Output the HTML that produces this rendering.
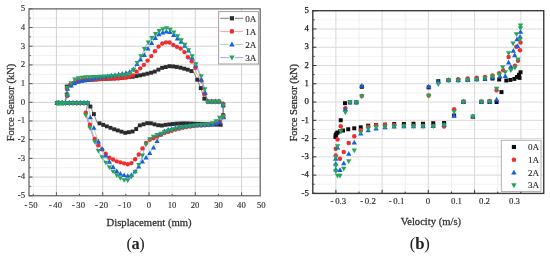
<!DOCTYPE html>
<html><head><meta charset="utf-8"><title>Force sensor hysteresis</title>
<style>html,body{margin:0;padding:0;background:#fff;}body{width:550px;height:256px;overflow:hidden}svg{display:block}</style>
</head><body>
<svg width="550" height="256" viewBox="0 0 550 256"><rect x="0" y="0" width="550" height="256" fill="#fff"/>
<line x1="29.0" x2="260.2" y1="186.41" y2="186.41" stroke="#f0f0f0" stroke-width="1"/>
<line x1="29.0" x2="260.2" y1="167.72" y2="167.72" stroke="#f0f0f0" stroke-width="1"/>
<line x1="29.0" x2="260.2" y1="149.03" y2="149.03" stroke="#f0f0f0" stroke-width="1"/>
<line x1="29.0" x2="260.2" y1="130.34" y2="130.34" stroke="#f0f0f0" stroke-width="1"/>
<line x1="29.0" x2="260.2" y1="111.64" y2="111.64" stroke="#f0f0f0" stroke-width="1"/>
<line x1="29.0" x2="260.2" y1="92.95" y2="92.95" stroke="#f0f0f0" stroke-width="1"/>
<line x1="29.0" x2="260.2" y1="74.26" y2="74.26" stroke="#f0f0f0" stroke-width="1"/>
<line x1="29.0" x2="260.2" y1="55.57" y2="55.57" stroke="#f0f0f0" stroke-width="1"/>
<line x1="29.0" x2="260.2" y1="36.88" y2="36.88" stroke="#f0f0f0" stroke-width="1"/>
<line x1="29.0" x2="260.2" y1="18.19" y2="18.19" stroke="#f0f0f0" stroke-width="1"/>
<line x1="33.25" x2="33.25" y1="8.86" y2="195.75" stroke="#ededed" stroke-width="1"/>
<line x1="79.55" x2="79.55" y1="8.86" y2="195.75" stroke="#ededed" stroke-width="1"/>
<line x1="125.85" x2="125.85" y1="8.86" y2="195.75" stroke="#ededed" stroke-width="1"/>
<line x1="172.15" x2="172.15" y1="8.86" y2="195.75" stroke="#ededed" stroke-width="1"/>
<line x1="218.45" x2="218.45" y1="8.86" y2="195.75" stroke="#ededed" stroke-width="1"/>
<line x1="29.0" x2="260.2" y1="177.06" y2="177.06" stroke="#d0d0d0" stroke-width="1"/>
<line x1="29.0" x2="260.2" y1="158.37" y2="158.37" stroke="#d0d0d0" stroke-width="1"/>
<line x1="29.0" x2="260.2" y1="139.68" y2="139.68" stroke="#d0d0d0" stroke-width="1"/>
<line x1="29.0" x2="260.2" y1="120.99" y2="120.99" stroke="#d0d0d0" stroke-width="1"/>
<line x1="29.0" x2="260.2" y1="102.30" y2="102.30" stroke="#d0d0d0" stroke-width="1"/>
<line x1="29.0" x2="260.2" y1="83.61" y2="83.61" stroke="#d0d0d0" stroke-width="1"/>
<line x1="29.0" x2="260.2" y1="64.92" y2="64.92" stroke="#d0d0d0" stroke-width="1"/>
<line x1="29.0" x2="260.2" y1="46.23" y2="46.23" stroke="#d0d0d0" stroke-width="1"/>
<line x1="29.0" x2="260.2" y1="27.54" y2="27.54" stroke="#d0d0d0" stroke-width="1"/>
<line x1="56.40" x2="56.40" y1="8.86" y2="195.75" stroke="#d0d0d0" stroke-width="1"/>
<line x1="102.70" x2="102.70" y1="8.86" y2="195.75" stroke="#d0d0d0" stroke-width="1"/>
<line x1="149.00" x2="149.00" y1="8.86" y2="195.75" stroke="#d0d0d0" stroke-width="1"/>
<line x1="195.30" x2="195.30" y1="8.86" y2="195.75" stroke="#d0d0d0" stroke-width="1"/>
<line x1="241.60" x2="241.60" y1="8.86" y2="195.75" stroke="#d0d0d0" stroke-width="1"/>
<path d="M57.00 103.00L64.50 103.00L66.80 94.50L66.80 86.50L70.50 85.00L74.00 83.00L77.00 81.80L80.50 81.00L84.00 80.40L94.00 79.60L106.50 78.80L119.00 78.20L134.00 76.60L144.00 74.50L154.00 72.00L161.50 68.00L170.25 66.00L179.00 67.30L189.00 70.00L193.60 72.00L197.20 79.70L200.80 88.10L204.30 98.70L207.90 101.60L221.30 101.60L223.20 105.50L223.20 115.20L220.60 124.80L204.00 124.10L197.00 123.80L185.00 123.30L175.80 123.70L165.60 124.80L160.50 125.80L154.40 124.30L148.80 122.70L143.20 124.40L137.60 126.00L135.60 130.30L133.50 131.30L125.40 132.90L114.20 129.30L104.00 125.20L97.00 122.30L93.90 114.10L90.40 106.50L87.70 103.00L57.00 103.00" fill="none" stroke="#333" stroke-width="0.6"/>
<path d="M57.00 103.00L64.50 103.00L67.20 96.00L67.00 88.50L70.80 85.20L74.20 82.60L77.00 81.40L80.50 80.60L84.00 80.00L94.00 79.30L106.50 78.80L119.00 78.30L128.00 77.30L132.75 75.50L138.28 70.00L142.70 66.25L146.45 62.00L150.20 57.50L153.95 52.50L157.70 47.50L161.45 43.75L165.20 42.50L168.53 41.75L171.50 43.75L175.25 46.25L179.00 47.50L182.75 50.00L186.50 55.00L189.00 58.75L192.75 62.50L195.25 67.50L196.20 73.00L201.30 80.50L204.30 94.00L207.90 101.60L221.30 101.60L223.20 103.70L223.40 116.00L219.80 121.50L216.20 123.20L212.50 124.40L208.50 125.00L197.00 125.70L190.00 126.50L184.00 127.40L174.00 130.00L164.00 133.20L155.25 137.50L149.00 140.00L145.25 143.75L141.50 150.00L137.75 156.25L134.50 160.00L130.75 163.75L127.75 164.25L122.75 163.00L116.50 161.25L109.00 157.50L101.50 148.75L97.75 144.50L94.00 137.50L89.90 124.80L85.80 112.60L87.70 103.00L57.00 103.00" fill="none" stroke="#f55" stroke-width="0.6"/>
<path d="M57.00 103.00L64.50 103.00L67.80 94.90L67.50 88.80L71.20 85.60L74.60 83.20L77.00 81.90L80.50 81.00L84.00 80.30L90.00 79.20L100.00 77.20L104.00 76.80L117.00 74.60L129.00 72.30L134.00 68.75L138.32 62.00L143.30 57.00L146.30 51.25L150.30 45.00L153.80 40.00L157.55 35.00L162.55 32.50L167.49 31.25L171.25 32.50L176.25 37.50L181.25 42.00L186.25 47.50L190.00 53.00L192.50 58.75L196.00 66.00L197.80 70.50L201.30 79.70L205.30 92.90L207.90 101.60L221.30 101.60L223.20 104.50L223.70 117.20L219.60 122.30L216.00 123.40L212.30 124.20L208.50 124.80L197.00 125.00L187.00 125.90L176.50 127.40L165.25 130.60L160.00 135.00L156.50 142.50L152.75 148.75L148.50 155.00L142.75 161.25L139.00 166.25L135.25 171.25L130.25 176.25L125.25 175.50L120.25 173.75L115.25 170.00L109.00 161.25L104.00 152.50L99.00 143.00L97.00 138.00L93.90 127.90L90.40 117.20L87.70 103.00L57.00 103.00" fill="none" stroke="#6c6" stroke-width="0.6"/>
<path d="M57.00 103.00L64.50 103.00L67.30 95.50L67.30 87.70L71.20 83.20L74.80 79.40L77.00 78.40L84.00 77.40L94.00 77.00L104.00 76.60L117.00 75.80L129.00 74.60L134.00 69.50L138.65 60.00L142.80 53.00L146.30 45.00L149.30 41.00L152.30 37.50L157.30 32.00L162.30 29.50L167.30 28.00L171.00 30.00L175.50 33.75L181.00 40.00L186.00 46.00L190.00 52.50L193.75 58.75L197.00 67.00L201.30 76.10L204.80 89.30L207.90 101.60L221.30 101.60L223.20 105.30L223.00 116.80L219.60 117.70L216.00 121.30L212.50 123.30L208.50 124.60L197.00 125.20L187.00 126.60L176.50 128.60L166.00 131.60L156.50 135.30L151.50 137.50L147.00 142.00L144.00 150.00L141.50 158.75L136.50 170.00L132.75 175.00L129.00 180.00L125.25 180.75L120.25 178.00L116.50 175.00L111.50 170.00L106.50 163.75L101.50 156.25L99.00 152.50L94.00 140.00L89.90 127.90L85.80 115.20L87.70 103.00L57.00 103.00" fill="none" stroke="#66f" stroke-width="0.6"/>
<g><rect x="55.05" y="101.05" width="3.91" height="3.91" fill="#2b2b2b"/><rect x="55.05" y="101.05" width="3.91" height="3.91" fill="#2b2b2b"/><rect x="58.72" y="101.05" width="3.91" height="3.91" fill="#2b2b2b"/><rect x="62.39" y="101.05" width="3.91" height="3.91" fill="#2b2b2b"/><rect x="64.85" y="92.55" width="3.91" height="3.91" fill="#2b2b2b"/><rect x="64.85" y="84.55" width="3.91" height="3.91" fill="#2b2b2b"/><rect x="68.55" y="83.05" width="3.91" height="3.91" fill="#2b2b2b"/><rect x="72.05" y="81.05" width="3.91" height="3.91" fill="#2b2b2b"/><rect x="75.72" y="79.69" width="3.91" height="3.91" fill="#2b2b2b"/><rect x="79.39" y="78.90" width="3.91" height="3.91" fill="#2b2b2b"/><rect x="83.06" y="78.37" width="3.91" height="3.91" fill="#2b2b2b"/><rect x="86.73" y="78.07" width="3.91" height="3.91" fill="#2b2b2b"/><rect x="90.40" y="77.78" width="3.91" height="3.91" fill="#2b2b2b"/><rect x="94.07" y="77.52" width="3.91" height="3.91" fill="#2b2b2b"/><rect x="97.74" y="77.28" width="3.91" height="3.91" fill="#2b2b2b"/><rect x="101.41" y="77.05" width="3.91" height="3.91" fill="#2b2b2b"/><rect x="105.08" y="76.82" width="3.91" height="3.91" fill="#2b2b2b"/><rect x="108.75" y="76.65" width="3.91" height="3.91" fill="#2b2b2b"/><rect x="112.42" y="76.47" width="3.91" height="3.91" fill="#2b2b2b"/><rect x="116.09" y="76.29" width="3.91" height="3.91" fill="#2b2b2b"/><rect x="119.76" y="75.96" width="3.91" height="3.91" fill="#2b2b2b"/><rect x="123.43" y="75.57" width="3.91" height="3.91" fill="#2b2b2b"/><rect x="127.10" y="75.17" width="3.91" height="3.91" fill="#2b2b2b"/><rect x="130.77" y="74.78" width="3.91" height="3.91" fill="#2b2b2b"/><rect x="134.44" y="74.15" width="3.91" height="3.91" fill="#2b2b2b"/><rect x="138.11" y="73.37" width="3.91" height="3.91" fill="#2b2b2b"/><rect x="141.78" y="72.60" width="3.91" height="3.91" fill="#2b2b2b"/><rect x="145.45" y="71.70" width="3.91" height="3.91" fill="#2b2b2b"/><rect x="149.12" y="70.78" width="3.91" height="3.91" fill="#2b2b2b"/><rect x="152.79" y="69.65" width="3.91" height="3.91" fill="#2b2b2b"/><rect x="156.46" y="67.69" width="3.91" height="3.91" fill="#2b2b2b"/><rect x="160.13" y="65.91" width="3.91" height="3.91" fill="#2b2b2b"/><rect x="163.80" y="65.08" width="3.91" height="3.91" fill="#2b2b2b"/><rect x="167.47" y="64.24" width="3.91" height="3.91" fill="#2b2b2b"/><rect x="171.14" y="64.47" width="3.91" height="3.91" fill="#2b2b2b"/><rect x="174.81" y="65.01" width="3.91" height="3.91" fill="#2b2b2b"/><rect x="178.48" y="65.73" width="3.91" height="3.91" fill="#2b2b2b"/><rect x="182.15" y="66.72" width="3.91" height="3.91" fill="#2b2b2b"/><rect x="185.82" y="67.71" width="3.91" height="3.91" fill="#2b2b2b"/><rect x="189.49" y="69.11" width="3.91" height="3.91" fill="#2b2b2b"/><rect x="195.25" y="77.75" width="3.91" height="3.91" fill="#2b2b2b"/><rect x="198.85" y="86.15" width="3.91" height="3.91" fill="#2b2b2b"/><rect x="202.35" y="96.75" width="3.91" height="3.91" fill="#2b2b2b"/><rect x="205.95" y="99.65" width="3.91" height="3.91" fill="#2b2b2b"/><rect x="209.62" y="99.65" width="3.91" height="3.91" fill="#2b2b2b"/><rect x="213.29" y="99.65" width="3.91" height="3.91" fill="#2b2b2b"/><rect x="216.96" y="99.65" width="3.91" height="3.91" fill="#2b2b2b"/><rect x="221.25" y="103.55" width="3.91" height="3.91" fill="#2b2b2b"/><rect x="221.25" y="113.25" width="3.91" height="3.91" fill="#2b2b2b"/><rect x="218.65" y="122.85" width="3.91" height="3.91" fill="#2b2b2b"/><rect x="214.98" y="122.69" width="3.91" height="3.91" fill="#2b2b2b"/><rect x="211.31" y="122.54" width="3.91" height="3.91" fill="#2b2b2b"/><rect x="207.64" y="122.38" width="3.91" height="3.91" fill="#2b2b2b"/><rect x="203.97" y="122.23" width="3.91" height="3.91" fill="#2b2b2b"/><rect x="200.30" y="122.07" width="3.91" height="3.91" fill="#2b2b2b"/><rect x="196.63" y="121.91" width="3.91" height="3.91" fill="#2b2b2b"/><rect x="192.96" y="121.76" width="3.91" height="3.91" fill="#2b2b2b"/><rect x="189.29" y="121.61" width="3.91" height="3.91" fill="#2b2b2b"/><rect x="185.62" y="121.45" width="3.91" height="3.91" fill="#2b2b2b"/><rect x="181.95" y="121.39" width="3.91" height="3.91" fill="#2b2b2b"/><rect x="178.28" y="121.55" width="3.91" height="3.91" fill="#2b2b2b"/><rect x="174.61" y="121.71" width="3.91" height="3.91" fill="#2b2b2b"/><rect x="170.94" y="122.06" width="3.91" height="3.91" fill="#2b2b2b"/><rect x="167.27" y="122.46" width="3.91" height="3.91" fill="#2b2b2b"/><rect x="163.60" y="122.86" width="3.91" height="3.91" fill="#2b2b2b"/><rect x="159.93" y="123.58" width="3.91" height="3.91" fill="#2b2b2b"/><rect x="156.26" y="123.28" width="3.91" height="3.91" fill="#2b2b2b"/><rect x="152.59" y="122.38" width="3.91" height="3.91" fill="#2b2b2b"/><rect x="148.92" y="121.34" width="3.91" height="3.91" fill="#2b2b2b"/><rect x="145.25" y="121.23" width="3.91" height="3.91" fill="#2b2b2b"/><rect x="141.58" y="122.35" width="3.91" height="3.91" fill="#2b2b2b"/><rect x="137.91" y="123.40" width="3.91" height="3.91" fill="#2b2b2b"/><rect x="134.24" y="127.08" width="3.91" height="3.91" fill="#2b2b2b"/><rect x="130.57" y="129.54" width="3.91" height="3.91" fill="#2b2b2b"/><rect x="126.90" y="130.27" width="3.91" height="3.91" fill="#2b2b2b"/><rect x="123.23" y="130.88" width="3.91" height="3.91" fill="#2b2b2b"/><rect x="119.56" y="129.70" width="3.91" height="3.91" fill="#2b2b2b"/><rect x="115.89" y="128.52" width="3.91" height="3.91" fill="#2b2b2b"/><rect x="112.22" y="127.33" width="3.91" height="3.91" fill="#2b2b2b"/><rect x="108.55" y="125.86" width="3.91" height="3.91" fill="#2b2b2b"/><rect x="104.88" y="124.38" width="3.91" height="3.91" fill="#2b2b2b"/><rect x="101.21" y="122.90" width="3.91" height="3.91" fill="#2b2b2b"/><rect x="97.54" y="121.38" width="3.91" height="3.91" fill="#2b2b2b"/><rect x="91.95" y="112.15" width="3.91" height="3.91" fill="#2b2b2b"/><rect x="88.45" y="104.55" width="3.91" height="3.91" fill="#2b2b2b"/><rect x="85.75" y="101.05" width="3.91" height="3.91" fill="#2b2b2b"/><rect x="82.08" y="101.05" width="3.91" height="3.91" fill="#2b2b2b"/><rect x="78.41" y="101.05" width="3.91" height="3.91" fill="#2b2b2b"/><rect x="74.74" y="101.05" width="3.91" height="3.91" fill="#2b2b2b"/><rect x="71.07" y="101.05" width="3.91" height="3.91" fill="#2b2b2b"/><rect x="67.40" y="101.05" width="3.91" height="3.91" fill="#2b2b2b"/><rect x="63.73" y="101.05" width="3.91" height="3.91" fill="#2b2b2b"/><rect x="60.06" y="101.05" width="3.91" height="3.91" fill="#2b2b2b"/><rect x="56.39" y="101.05" width="3.91" height="3.91" fill="#2b2b2b"/></g>
<g><circle cx="57.00" cy="103.10" r="2.19" fill="#ee2d2f"/><circle cx="58.00" cy="103.10" r="2.19" fill="#ee2d2f"/><circle cx="61.67" cy="103.10" r="2.19" fill="#ee2d2f"/><circle cx="67.20" cy="96.00" r="2.19" fill="#ee2d2f"/><circle cx="67.00" cy="88.50" r="2.19" fill="#ee2d2f"/><circle cx="70.80" cy="85.20" r="2.19" fill="#ee2d2f"/><circle cx="74.20" cy="82.60" r="2.19" fill="#ee2d2f"/><circle cx="77.87" cy="81.20" r="2.19" fill="#ee2d2f"/><circle cx="81.54" cy="80.42" r="2.19" fill="#ee2d2f"/><circle cx="85.21" cy="79.92" r="2.19" fill="#ee2d2f"/><circle cx="88.88" cy="79.66" r="2.19" fill="#ee2d2f"/><circle cx="92.55" cy="79.40" r="2.19" fill="#ee2d2f"/><circle cx="96.22" cy="79.21" r="2.19" fill="#ee2d2f"/><circle cx="99.89" cy="79.06" r="2.19" fill="#ee2d2f"/><circle cx="103.56" cy="78.92" r="2.19" fill="#ee2d2f"/><circle cx="107.23" cy="78.77" r="2.19" fill="#ee2d2f"/><circle cx="110.90" cy="78.62" r="2.19" fill="#ee2d2f"/><circle cx="114.57" cy="78.48" r="2.19" fill="#ee2d2f"/><circle cx="118.24" cy="78.33" r="2.19" fill="#ee2d2f"/><circle cx="121.91" cy="77.98" r="2.19" fill="#ee2d2f"/><circle cx="125.58" cy="77.57" r="2.19" fill="#ee2d2f"/><circle cx="129.25" cy="76.83" r="2.19" fill="#ee2d2f"/><circle cx="132.92" cy="75.33" r="2.19" fill="#ee2d2f"/><circle cx="136.59" cy="71.68" r="2.19" fill="#ee2d2f"/><circle cx="140.26" cy="68.32" r="2.19" fill="#ee2d2f"/><circle cx="143.93" cy="64.86" r="2.19" fill="#ee2d2f"/><circle cx="147.60" cy="60.62" r="2.19" fill="#ee2d2f"/><circle cx="151.27" cy="56.07" r="2.19" fill="#ee2d2f"/><circle cx="154.94" cy="51.18" r="2.19" fill="#ee2d2f"/><circle cx="158.61" cy="46.59" r="2.19" fill="#ee2d2f"/><circle cx="162.28" cy="43.47" r="2.19" fill="#ee2d2f"/><circle cx="165.95" cy="42.33" r="2.19" fill="#ee2d2f"/><circle cx="169.62" cy="42.48" r="2.19" fill="#ee2d2f"/><circle cx="173.29" cy="44.94" r="2.19" fill="#ee2d2f"/><circle cx="176.96" cy="46.82" r="2.19" fill="#ee2d2f"/><circle cx="180.63" cy="48.59" r="2.19" fill="#ee2d2f"/><circle cx="184.30" cy="52.07" r="2.19" fill="#ee2d2f"/><circle cx="187.97" cy="57.20" r="2.19" fill="#ee2d2f"/><circle cx="191.64" cy="61.39" r="2.19" fill="#ee2d2f"/><circle cx="195.31" cy="67.85" r="2.19" fill="#ee2d2f"/><circle cx="201.30" cy="80.50" r="2.19" fill="#ee2d2f"/><circle cx="204.30" cy="94.00" r="2.19" fill="#ee2d2f"/><circle cx="207.90" cy="101.70" r="2.19" fill="#ee2d2f"/><circle cx="211.57" cy="101.70" r="2.19" fill="#ee2d2f"/><circle cx="215.24" cy="101.70" r="2.19" fill="#ee2d2f"/><circle cx="218.91" cy="101.70" r="2.19" fill="#ee2d2f"/><circle cx="223.20" cy="103.70" r="2.19" fill="#ee2d2f"/><circle cx="223.40" cy="116.00" r="2.19" fill="#ee2d2f"/><circle cx="219.80" cy="121.50" r="2.19" fill="#ee2d2f"/><circle cx="216.20" cy="123.20" r="2.19" fill="#ee2d2f"/><circle cx="212.50" cy="124.40" r="2.19" fill="#ee2d2f"/><circle cx="208.50" cy="125.00" r="2.19" fill="#ee2d2f"/><circle cx="204.83" cy="125.22" r="2.19" fill="#ee2d2f"/><circle cx="201.16" cy="125.45" r="2.19" fill="#ee2d2f"/><circle cx="197.49" cy="125.67" r="2.19" fill="#ee2d2f"/><circle cx="193.82" cy="126.06" r="2.19" fill="#ee2d2f"/><circle cx="190.15" cy="126.48" r="2.19" fill="#ee2d2f"/><circle cx="186.48" cy="127.03" r="2.19" fill="#ee2d2f"/><circle cx="182.81" cy="127.71" r="2.19" fill="#ee2d2f"/><circle cx="179.14" cy="128.66" r="2.19" fill="#ee2d2f"/><circle cx="175.47" cy="129.62" r="2.19" fill="#ee2d2f"/><circle cx="171.80" cy="130.70" r="2.19" fill="#ee2d2f"/><circle cx="168.13" cy="131.88" r="2.19" fill="#ee2d2f"/><circle cx="164.46" cy="133.05" r="2.19" fill="#ee2d2f"/><circle cx="160.79" cy="134.78" r="2.19" fill="#ee2d2f"/><circle cx="157.12" cy="136.58" r="2.19" fill="#ee2d2f"/><circle cx="153.45" cy="138.22" r="2.19" fill="#ee2d2f"/><circle cx="149.78" cy="139.69" r="2.19" fill="#ee2d2f"/><circle cx="146.11" cy="142.89" r="2.19" fill="#ee2d2f"/><circle cx="142.44" cy="148.43" r="2.19" fill="#ee2d2f"/><circle cx="138.77" cy="154.55" r="2.19" fill="#ee2d2f"/><circle cx="135.10" cy="159.31" r="2.19" fill="#ee2d2f"/><circle cx="131.43" cy="163.07" r="2.19" fill="#ee2d2f"/><circle cx="127.76" cy="164.25" r="2.19" fill="#ee2d2f"/><circle cx="124.09" cy="163.34" r="2.19" fill="#ee2d2f"/><circle cx="120.42" cy="162.35" r="2.19" fill="#ee2d2f"/><circle cx="116.75" cy="161.32" r="2.19" fill="#ee2d2f"/><circle cx="113.08" cy="159.54" r="2.19" fill="#ee2d2f"/><circle cx="109.41" cy="157.71" r="2.19" fill="#ee2d2f"/><circle cx="105.74" cy="153.70" r="2.19" fill="#ee2d2f"/><circle cx="102.07" cy="149.41" r="2.19" fill="#ee2d2f"/><circle cx="98.40" cy="145.24" r="2.19" fill="#ee2d2f"/><circle cx="94.73" cy="138.86" r="2.19" fill="#ee2d2f"/><circle cx="89.90" cy="124.80" r="2.19" fill="#ee2d2f"/><circle cx="85.80" cy="112.60" r="2.19" fill="#ee2d2f"/><circle cx="87.70" cy="103.10" r="2.19" fill="#ee2d2f"/><circle cx="84.03" cy="103.10" r="2.19" fill="#ee2d2f"/><circle cx="80.36" cy="103.10" r="2.19" fill="#ee2d2f"/><circle cx="76.69" cy="103.10" r="2.19" fill="#ee2d2f"/><circle cx="73.02" cy="103.10" r="2.19" fill="#ee2d2f"/><circle cx="69.35" cy="103.10" r="2.19" fill="#ee2d2f"/><circle cx="65.68" cy="103.10" r="2.19" fill="#ee2d2f"/><circle cx="62.01" cy="103.10" r="2.19" fill="#ee2d2f"/><circle cx="58.34" cy="103.10" r="2.19" fill="#ee2d2f"/></g>
<g><path d="M57.00 99.80L59.60 104.45L54.40 104.45Z" fill="#1660e0"/><path d="M59.00 99.80L61.60 104.45L56.40 104.45Z" fill="#1660e0"/><path d="M62.67 99.80L65.27 104.45L60.07 104.45Z" fill="#1660e0"/><path d="M67.80 92.20L70.40 96.85L65.20 96.85Z" fill="#1660e0"/><path d="M67.50 86.10L70.10 90.75L64.90 90.75Z" fill="#1660e0"/><path d="M71.20 82.90L73.80 87.55L68.60 87.55Z" fill="#1660e0"/><path d="M74.60 80.50L77.20 85.15L72.00 85.15Z" fill="#1660e0"/><path d="M78.27 78.88L80.87 83.53L75.67 83.53Z" fill="#1660e0"/><path d="M81.94 78.02L84.54 82.67L79.34 82.67Z" fill="#1660e0"/><path d="M85.61 77.31L88.21 81.96L83.01 81.96Z" fill="#1660e0"/><path d="M89.28 76.64L91.88 81.29L86.68 81.29Z" fill="#1660e0"/><path d="M92.95 75.91L95.55 80.56L90.35 80.56Z" fill="#1660e0"/><path d="M96.62 75.18L99.22 79.83L94.02 79.83Z" fill="#1660e0"/><path d="M100.29 74.47L102.89 79.12L97.69 79.12Z" fill="#1660e0"/><path d="M103.96 74.11L106.56 78.76L101.36 78.76Z" fill="#1660e0"/><path d="M107.63 73.49L110.23 78.14L105.03 78.14Z" fill="#1660e0"/><path d="M111.30 72.87L113.90 77.52L108.70 77.52Z" fill="#1660e0"/><path d="M114.97 72.25L117.57 76.90L112.37 76.90Z" fill="#1660e0"/><path d="M118.64 71.59L121.24 76.24L116.04 76.24Z" fill="#1660e0"/><path d="M122.31 70.89L124.91 75.54L119.71 75.54Z" fill="#1660e0"/><path d="M125.98 70.18L128.58 74.83L123.38 74.83Z" fill="#1660e0"/><path d="M129.65 69.14L132.25 73.79L127.05 73.79Z" fill="#1660e0"/><path d="M133.32 66.54L135.92 71.19L130.72 71.19Z" fill="#1660e0"/><path d="M136.99 61.38L139.59 66.03L134.39 66.03Z" fill="#1660e0"/><path d="M140.66 56.95L143.26 61.60L138.06 61.60Z" fill="#1660e0"/><path d="M144.33 52.33L146.93 56.98L141.73 56.98Z" fill="#1660e0"/><path d="M148.00 45.90L150.60 50.55L145.40 50.55Z" fill="#1660e0"/><path d="M151.67 40.35L154.27 45.00L149.07 45.00Z" fill="#1660e0"/><path d="M155.34 35.25L157.94 39.90L152.74 39.90Z" fill="#1660e0"/><path d="M159.01 31.57L161.61 36.22L156.41 36.22Z" fill="#1660e0"/><path d="M162.68 29.77L165.28 34.42L160.08 34.42Z" fill="#1660e0"/><path d="M166.35 28.84L168.95 33.49L163.75 33.49Z" fill="#1660e0"/><path d="M170.02 29.39L172.62 34.04L167.42 34.04Z" fill="#1660e0"/><path d="M173.69 32.24L176.29 36.89L171.09 36.89Z" fill="#1660e0"/><path d="M177.36 35.80L179.96 40.45L174.76 40.45Z" fill="#1660e0"/><path d="M181.03 39.10L183.63 43.75L178.43 43.75Z" fill="#1660e0"/><path d="M184.70 43.10L187.30 47.75L182.10 47.75Z" fill="#1660e0"/><path d="M188.37 47.91L190.97 52.56L185.77 52.56Z" fill="#1660e0"/><path d="M192.04 54.99L194.64 59.64L189.44 59.64Z" fill="#1660e0"/><path d="M195.71 62.70L198.31 67.35L193.11 67.35Z" fill="#1660e0"/><path d="M201.30 77.00L203.90 81.65L198.70 81.65Z" fill="#1660e0"/><path d="M205.30 90.20L207.90 94.85L202.70 94.85Z" fill="#1660e0"/><path d="M207.90 98.40L210.50 103.05L205.30 103.05Z" fill="#1660e0"/><path d="M211.57 98.40L214.17 103.05L208.97 103.05Z" fill="#1660e0"/><path d="M215.24 98.40L217.84 103.05L212.64 103.05Z" fill="#1660e0"/><path d="M218.91 98.40L221.51 103.05L216.31 103.05Z" fill="#1660e0"/><path d="M223.20 101.80L225.80 106.45L220.60 106.45Z" fill="#1660e0"/><path d="M223.70 114.50L226.30 119.15L221.10 119.15Z" fill="#1660e0"/><path d="M219.60 119.60L222.20 124.25L217.00 124.25Z" fill="#1660e0"/><path d="M216.00 120.70L218.60 125.35L213.40 125.35Z" fill="#1660e0"/><path d="M212.30 121.50L214.90 126.15L209.70 126.15Z" fill="#1660e0"/><path d="M208.50 122.10L211.10 126.75L205.90 126.75Z" fill="#1660e0"/><path d="M204.83 122.17L207.43 126.82L202.23 126.82Z" fill="#1660e0"/><path d="M201.16 122.23L203.76 126.88L198.56 126.88Z" fill="#1660e0"/><path d="M197.49 122.29L200.09 126.94L194.89 126.94Z" fill="#1660e0"/><path d="M193.82 122.59L196.42 127.24L191.22 127.24Z" fill="#1660e0"/><path d="M190.15 122.92L192.75 127.57L187.55 127.57Z" fill="#1660e0"/><path d="M186.48 123.28L189.08 127.93L183.88 127.93Z" fill="#1660e0"/><path d="M182.81 123.80L185.41 128.45L180.21 128.45Z" fill="#1660e0"/><path d="M179.14 124.33L181.74 128.98L176.54 128.98Z" fill="#1660e0"/><path d="M175.47 125.00L178.07 129.65L172.87 129.65Z" fill="#1660e0"/><path d="M171.80 126.04L174.40 130.69L169.20 130.69Z" fill="#1660e0"/><path d="M168.13 127.08L170.73 131.73L165.53 131.73Z" fill="#1660e0"/><path d="M164.46 128.57L167.06 133.22L161.86 133.22Z" fill="#1660e0"/><path d="M160.79 131.64L163.39 136.29L158.19 136.29Z" fill="#1660e0"/><path d="M157.12 138.47L159.72 143.12L154.52 143.12Z" fill="#1660e0"/><path d="M153.45 144.89L156.05 149.54L150.85 149.54Z" fill="#1660e0"/><path d="M149.78 150.42L152.38 155.07L147.18 155.07Z" fill="#1660e0"/><path d="M146.11 154.90L148.71 159.55L143.51 159.55Z" fill="#1660e0"/><path d="M142.44 158.97L145.04 163.62L139.84 163.62Z" fill="#1660e0"/><path d="M138.77 163.86L141.37 168.51L136.17 168.51Z" fill="#1660e0"/><path d="M135.10 168.70L137.70 173.35L132.50 173.35Z" fill="#1660e0"/><path d="M131.43 172.37L134.03 177.02L128.83 177.02Z" fill="#1660e0"/><path d="M127.76 173.18L130.36 177.83L125.16 177.83Z" fill="#1660e0"/><path d="M124.09 172.40L126.69 177.05L121.49 177.05Z" fill="#1660e0"/><path d="M120.42 171.11L123.02 175.76L117.82 175.76Z" fill="#1660e0"/><path d="M116.75 168.43L119.35 173.08L114.15 173.08Z" fill="#1660e0"/><path d="M113.08 164.26L115.68 168.91L110.48 168.91Z" fill="#1660e0"/><path d="M109.41 159.13L112.01 163.78L106.81 163.78Z" fill="#1660e0"/><path d="M105.74 152.85L108.34 157.50L103.14 157.50Z" fill="#1660e0"/><path d="M102.07 146.14L104.67 150.79L99.47 150.79Z" fill="#1660e0"/><path d="M98.40 138.80L101.00 143.45L95.80 143.45Z" fill="#1660e0"/><path d="M93.90 125.20L96.50 129.85L91.30 129.85Z" fill="#1660e0"/><path d="M90.40 114.50L93.00 119.15L87.80 119.15Z" fill="#1660e0"/><path d="M87.70 99.80L90.30 104.45L85.10 104.45Z" fill="#1660e0"/><path d="M84.03 99.80L86.63 104.45L81.43 104.45Z" fill="#1660e0"/><path d="M80.36 99.80L82.96 104.45L77.76 104.45Z" fill="#1660e0"/><path d="M76.69 99.80L79.29 104.45L74.09 104.45Z" fill="#1660e0"/><path d="M73.02 99.80L75.62 104.45L70.42 104.45Z" fill="#1660e0"/><path d="M69.35 99.80L71.95 104.45L66.75 104.45Z" fill="#1660e0"/><path d="M65.68 99.80L68.28 104.45L63.08 104.45Z" fill="#1660e0"/><path d="M62.01 99.80L64.61 104.45L59.41 104.45Z" fill="#1660e0"/><path d="M58.34 99.80L60.94 104.45L55.74 104.45Z" fill="#1660e0"/></g>
<g><path d="M57.00 106.15L59.60 101.50L54.40 101.50Z" fill="#25a55a"/><path d="M60.00 106.15L62.60 101.50L57.40 101.50Z" fill="#25a55a"/><path d="M63.67 106.15L66.27 101.50L61.07 101.50Z" fill="#25a55a"/><path d="M67.30 98.20L69.90 93.55L64.70 93.55Z" fill="#25a55a"/><path d="M67.30 90.40L69.90 85.75L64.70 85.75Z" fill="#25a55a"/><path d="M71.20 85.90L73.80 81.25L68.60 81.25Z" fill="#25a55a"/><path d="M74.80 82.10L77.40 77.45L72.20 77.45Z" fill="#25a55a"/><path d="M78.47 80.89L81.07 76.24L75.87 76.24Z" fill="#25a55a"/><path d="M82.14 80.36L84.74 75.71L79.54 75.71Z" fill="#25a55a"/><path d="M85.81 80.02L88.41 75.37L83.21 75.37Z" fill="#25a55a"/><path d="M89.48 79.88L92.08 75.23L86.88 75.23Z" fill="#25a55a"/><path d="M93.15 79.73L95.75 75.08L90.55 75.08Z" fill="#25a55a"/><path d="M96.82 79.58L99.42 74.93L94.22 74.93Z" fill="#25a55a"/><path d="M100.49 79.44L103.09 74.79L97.89 74.79Z" fill="#25a55a"/><path d="M104.16 79.29L106.76 74.64L101.56 74.64Z" fill="#25a55a"/><path d="M107.83 79.06L110.43 74.41L105.23 74.41Z" fill="#25a55a"/><path d="M111.50 78.84L114.10 74.19L108.90 74.19Z" fill="#25a55a"/><path d="M115.17 78.61L117.77 73.96L112.57 73.96Z" fill="#25a55a"/><path d="M118.84 78.31L121.44 73.66L116.24 73.66Z" fill="#25a55a"/><path d="M122.51 77.95L125.11 73.30L119.91 73.30Z" fill="#25a55a"/><path d="M126.18 77.58L128.78 72.93L123.58 72.93Z" fill="#25a55a"/><path d="M129.85 76.43L132.45 71.78L127.25 71.78Z" fill="#25a55a"/><path d="M133.52 72.69L136.12 68.04L130.92 68.04Z" fill="#25a55a"/><path d="M137.19 65.68L139.79 61.03L134.59 61.03Z" fill="#25a55a"/><path d="M140.86 58.97L143.46 54.32L138.26 54.32Z" fill="#25a55a"/><path d="M144.53 51.74L147.13 47.09L141.93 47.09Z" fill="#25a55a"/><path d="M148.20 45.16L150.80 40.51L145.60 40.51Z" fill="#25a55a"/><path d="M151.87 40.70L154.47 36.05L149.27 36.05Z" fill="#25a55a"/><path d="M155.54 36.63L158.14 31.98L152.94 31.98Z" fill="#25a55a"/><path d="M159.21 33.74L161.81 29.09L156.61 29.09Z" fill="#25a55a"/><path d="M162.88 32.02L165.48 27.37L160.28 27.37Z" fill="#25a55a"/><path d="M166.55 30.92L169.15 26.27L163.95 26.27Z" fill="#25a55a"/><path d="M170.22 32.28L172.82 27.63L167.62 27.63Z" fill="#25a55a"/><path d="M173.89 35.11L176.49 30.46L171.29 30.46Z" fill="#25a55a"/><path d="M177.56 38.79L180.16 34.14L174.96 34.14Z" fill="#25a55a"/><path d="M181.23 42.97L183.83 38.32L178.63 38.32Z" fill="#25a55a"/><path d="M184.90 47.38L187.50 42.73L182.30 42.73Z" fill="#25a55a"/><path d="M188.57 52.87L191.17 48.22L185.97 48.22Z" fill="#25a55a"/><path d="M192.24 58.93L194.84 54.28L189.64 54.28Z" fill="#25a55a"/><path d="M195.91 66.93L198.51 62.28L193.31 62.28Z" fill="#25a55a"/><path d="M201.30 78.80L203.90 74.15L198.70 74.15Z" fill="#25a55a"/><path d="M204.80 92.00L207.40 87.35L202.20 87.35Z" fill="#25a55a"/><path d="M207.90 104.75L210.50 100.10L205.30 100.10Z" fill="#25a55a"/><path d="M211.57 104.75L214.17 100.10L208.97 100.10Z" fill="#25a55a"/><path d="M215.24 104.75L217.84 100.10L212.64 100.10Z" fill="#25a55a"/><path d="M218.91 104.75L221.51 100.10L216.31 100.10Z" fill="#25a55a"/><path d="M223.20 108.00L225.80 103.35L220.60 103.35Z" fill="#25a55a"/><path d="M223.00 119.50L225.60 114.85L220.40 114.85Z" fill="#25a55a"/><path d="M219.60 120.40L222.20 115.75L217.00 115.75Z" fill="#25a55a"/><path d="M216.00 124.00L218.60 119.35L213.40 119.35Z" fill="#25a55a"/><path d="M212.50 126.00L215.10 121.35L209.90 121.35Z" fill="#25a55a"/><path d="M208.50 127.30L211.10 122.65L205.90 122.65Z" fill="#25a55a"/><path d="M204.83 127.49L207.43 122.84L202.23 122.84Z" fill="#25a55a"/><path d="M201.16 127.68L203.76 123.03L198.56 123.03Z" fill="#25a55a"/><path d="M197.49 127.87L200.09 123.22L194.89 123.22Z" fill="#25a55a"/><path d="M193.82 128.34L196.42 123.69L191.22 123.69Z" fill="#25a55a"/><path d="M190.15 128.86L192.75 124.21L187.55 124.21Z" fill="#25a55a"/><path d="M186.48 129.40L189.08 124.75L183.88 124.75Z" fill="#25a55a"/><path d="M182.81 130.10L185.41 125.45L180.21 125.45Z" fill="#25a55a"/><path d="M179.14 130.79L181.74 126.14L176.54 126.14Z" fill="#25a55a"/><path d="M175.47 131.59L178.07 126.94L172.87 126.94Z" fill="#25a55a"/><path d="M171.80 132.64L174.40 127.99L169.20 127.99Z" fill="#25a55a"/><path d="M168.13 133.69L170.73 129.04L165.53 129.04Z" fill="#25a55a"/><path d="M164.46 134.90L167.06 130.25L161.86 130.25Z" fill="#25a55a"/><path d="M160.79 136.33L163.39 131.68L158.19 131.68Z" fill="#25a55a"/><path d="M157.12 137.76L159.72 133.11L154.52 133.11Z" fill="#25a55a"/><path d="M153.45 139.34L156.05 134.69L150.85 134.69Z" fill="#25a55a"/><path d="M149.78 141.92L152.38 137.27L147.18 137.27Z" fill="#25a55a"/><path d="M146.11 147.07L148.71 142.42L143.51 142.42Z" fill="#25a55a"/><path d="M142.44 158.16L145.04 153.51L139.84 153.51Z" fill="#25a55a"/><path d="M138.77 167.59L141.37 162.94L136.17 162.94Z" fill="#25a55a"/><path d="M135.10 174.56L137.70 169.91L132.50 169.91Z" fill="#25a55a"/><path d="M131.43 179.46L134.03 174.81L128.83 174.81Z" fill="#25a55a"/><path d="M127.76 182.94L130.36 178.29L125.16 178.29Z" fill="#25a55a"/><path d="M124.09 182.81L126.69 178.16L121.49 178.16Z" fill="#25a55a"/><path d="M120.42 180.79L123.02 176.14L117.82 176.14Z" fill="#25a55a"/><path d="M116.75 177.90L119.35 173.25L114.15 173.25Z" fill="#25a55a"/><path d="M113.08 174.28L115.68 169.63L110.48 169.63Z" fill="#25a55a"/><path d="M109.41 170.08L112.01 165.43L106.81 165.43Z" fill="#25a55a"/><path d="M105.74 165.31L108.34 160.66L103.14 160.66Z" fill="#25a55a"/><path d="M102.07 159.80L104.67 155.15L99.47 155.15Z" fill="#25a55a"/><path d="M98.40 153.70L101.00 149.05L95.80 149.05Z" fill="#25a55a"/><path d="M94.73 144.52L97.33 139.87L92.13 139.87Z" fill="#25a55a"/><path d="M89.90 130.60L92.50 125.95L87.30 125.95Z" fill="#25a55a"/><path d="M85.80 117.90L88.40 113.25L83.20 113.25Z" fill="#25a55a"/><path d="M87.70 106.15L90.30 101.50L85.10 101.50Z" fill="#25a55a"/><path d="M84.03 106.15L86.63 101.50L81.43 101.50Z" fill="#25a55a"/><path d="M80.36 106.15L82.96 101.50L77.76 101.50Z" fill="#25a55a"/><path d="M76.69 106.15L79.29 101.50L74.09 101.50Z" fill="#25a55a"/><path d="M73.02 106.15L75.62 101.50L70.42 101.50Z" fill="#25a55a"/><path d="M69.35 106.15L71.95 101.50L66.75 101.50Z" fill="#25a55a"/><path d="M65.68 106.15L68.28 101.50L63.08 101.50Z" fill="#25a55a"/><path d="M62.01 106.15L64.61 101.50L59.41 101.50Z" fill="#25a55a"/><path d="M58.34 106.15L60.94 101.50L55.74 101.50Z" fill="#25a55a"/></g>
<rect x="29.0" y="8.86" width="231.2" height="186.89" fill="none" stroke="#6a6a6a" stroke-width="1.3"/>
<line x1="29.0" x2="32.5" y1="195.75" y2="195.75" stroke="#555" stroke-width="1"/>
<line x1="29.0" x2="31.0" y1="186.41" y2="186.41" stroke="#666" stroke-width="0.9"/>
<line x1="29.0" x2="32.5" y1="177.06" y2="177.06" stroke="#555" stroke-width="1"/>
<line x1="29.0" x2="31.0" y1="167.72" y2="167.72" stroke="#666" stroke-width="0.9"/>
<line x1="29.0" x2="32.5" y1="158.37" y2="158.37" stroke="#555" stroke-width="1"/>
<line x1="29.0" x2="31.0" y1="149.03" y2="149.03" stroke="#666" stroke-width="0.9"/>
<line x1="29.0" x2="32.5" y1="139.68" y2="139.68" stroke="#555" stroke-width="1"/>
<line x1="29.0" x2="31.0" y1="130.34" y2="130.34" stroke="#666" stroke-width="0.9"/>
<line x1="29.0" x2="32.5" y1="120.99" y2="120.99" stroke="#555" stroke-width="1"/>
<line x1="29.0" x2="31.0" y1="111.64" y2="111.64" stroke="#666" stroke-width="0.9"/>
<line x1="29.0" x2="32.5" y1="102.30" y2="102.30" stroke="#555" stroke-width="1"/>
<line x1="29.0" x2="31.0" y1="92.95" y2="92.95" stroke="#666" stroke-width="0.9"/>
<line x1="29.0" x2="32.5" y1="83.61" y2="83.61" stroke="#555" stroke-width="1"/>
<line x1="29.0" x2="31.0" y1="74.26" y2="74.26" stroke="#666" stroke-width="0.9"/>
<line x1="29.0" x2="32.5" y1="64.92" y2="64.92" stroke="#555" stroke-width="1"/>
<line x1="29.0" x2="31.0" y1="55.57" y2="55.57" stroke="#666" stroke-width="0.9"/>
<line x1="29.0" x2="32.5" y1="46.23" y2="46.23" stroke="#555" stroke-width="1"/>
<line x1="29.0" x2="31.0" y1="36.88" y2="36.88" stroke="#666" stroke-width="0.9"/>
<line x1="29.0" x2="32.5" y1="27.54" y2="27.54" stroke="#555" stroke-width="1"/>
<line x1="29.0" x2="31.0" y1="18.19" y2="18.19" stroke="#666" stroke-width="0.9"/>
<line x1="29.0" x2="32.5" y1="8.85" y2="8.85" stroke="#555" stroke-width="1"/>
<line x1="33.25" x2="33.25" y1="195.75" y2="193.95" stroke="#555" stroke-width="1"/>
<line x1="56.40" x2="56.40" y1="195.75" y2="192.25" stroke="#555" stroke-width="1"/>
<line x1="79.55" x2="79.55" y1="195.75" y2="193.95" stroke="#555" stroke-width="1"/>
<line x1="102.70" x2="102.70" y1="195.75" y2="192.25" stroke="#555" stroke-width="1"/>
<line x1="125.85" x2="125.85" y1="195.75" y2="193.95" stroke="#555" stroke-width="1"/>
<line x1="149.00" x2="149.00" y1="195.75" y2="192.25" stroke="#555" stroke-width="1"/>
<line x1="172.15" x2="172.15" y1="195.75" y2="193.95" stroke="#555" stroke-width="1"/>
<line x1="195.30" x2="195.30" y1="195.75" y2="192.25" stroke="#555" stroke-width="1"/>
<line x1="218.45" x2="218.45" y1="195.75" y2="193.95" stroke="#555" stroke-width="1"/>
<line x1="241.60" x2="241.60" y1="195.75" y2="192.25" stroke="#555" stroke-width="1"/>
<g font-family='"Liberation Serif", "DejaVu Serif", serif' font-size="8.8" fill="#333" stroke="#333" stroke-width="0.15" text-anchor="end">
<text x="25.1" y="198.15">-5</text>
<text x="25.1" y="179.46">-4</text>
<text x="25.1" y="160.77">-3</text>
<text x="25.1" y="142.08">-2</text>
<text x="25.1" y="123.39">-1</text>
<text x="25.1" y="104.70">0</text>
<text x="25.1" y="86.01">1</text>
<text x="25.1" y="67.32">2</text>
<text x="25.1" y="48.63">3</text>
<text x="25.1" y="29.94">4</text>
<text x="25.1" y="11.25">5</text>
</g>
<g font-family='"Liberation Serif", "DejaVu Serif", serif' font-size="8.7" fill="#333" stroke="#333" stroke-width="0.15" text-anchor="middle">
<text x="31" y="208.2">-<tspan dx="1.5">50</tspan></text>
<text x="55.5" y="208.2">-<tspan dx="1.5">40</tspan></text>
<text x="78.5" y="208.2">-<tspan dx="1.5">30</tspan></text>
<text x="101.5" y="208.2">-<tspan dx="1.5">20</tspan></text>
<text x="124.5" y="208.2">-<tspan dx="1.5">10</tspan></text>
<text x="149" y="208.2">0</text>
<text x="172" y="208.2">10</text>
<text x="195" y="208.2">20</text>
<text x="218.5" y="208.2">30</text>
<text x="241.4" y="208.2">40</text>
<text x="261.3" y="208.2">50</text>
</g>
<text x="149.05" y="226.3" font-family='"Liberation Serif", "DejaVu Serif", serif' font-size="10.7" fill="#333" stroke="#333" stroke-width="0.28" text-anchor="middle">Displacement (mm)</text>
<text transform="translate(13.8,102.5) rotate(-90)" font-family='"Liberation Serif", "DejaVu Serif", serif' font-size="10.5" fill="#333" stroke="#333" stroke-width="0.25" text-anchor="middle">Force Sensor (kN)</text>
<text x="135.4" y="249.4" letter-spacing="-0.4" font-family='"Liberation Serif", "DejaVu Serif", serif' font-size="16.3" fill="#222" text-anchor="middle">(<tspan font-weight="bold">a</tspan>)</text>
<rect x="218.7" y="11.6" width="39.69999999999999" height="52.4" fill="#fff" stroke="#999" stroke-width="0.9"/>
<line x1="220.2" x2="243.1" y1="18.3" y2="18.3" stroke="#444" stroke-width="0.7"/>
<rect x="228.8" y="17.3" width="6.2" height="2" fill="#fff"/>
<rect x="229.80" y="16.20" width="4.20" height="4.20" fill="#2b2b2b"/>
<text x="245.2" y="21.6" font-family='"Liberation Serif", "DejaVu Serif", serif' font-size="9.1" fill="#222" stroke="#222" stroke-width="0.1">0A</text>
<line x1="220.2" x2="243.1" y1="31.4" y2="31.4" stroke="#f77" stroke-width="0.7"/>
<rect x="228.8" y="30.4" width="6.2" height="2" fill="#fff"/>
<circle cx="231.90" cy="31.40" r="2.35" fill="#ee2d2f"/>
<text x="245.2" y="34.699999999999996" font-family='"Liberation Serif", "DejaVu Serif", serif' font-size="9.1" fill="#222" stroke="#222" stroke-width="0.1">1A</text>
<line x1="220.2" x2="243.1" y1="44.5" y2="44.5" stroke="#7d7" stroke-width="0.7"/>
<rect x="228.8" y="43.5" width="6.2" height="2" fill="#fff"/>
<path d="M231.90 41.60L234.70 46.60L229.10 46.60Z" fill="#1660e0"/>
<text x="245.2" y="47.8" font-family='"Liberation Serif", "DejaVu Serif", serif' font-size="9.1" fill="#222" stroke="#222" stroke-width="0.1">2A</text>
<line x1="220.2" x2="243.1" y1="57.599999999999994" y2="57.599999999999994" stroke="#77f" stroke-width="0.7"/>
<rect x="228.8" y="56.599999999999994" width="6.2" height="2" fill="#fff"/>
<path d="M231.90 60.50L234.70 55.50L229.10 55.50Z" fill="#25a55a"/>
<text x="245.2" y="60.89999999999999" font-family='"Liberation Serif", "DejaVu Serif", serif' font-size="9.1" fill="#222" stroke="#222" stroke-width="0.1">3A</text>
<line x1="312.8" x2="543.75" y1="184.26" y2="184.26" stroke="#f3f3f3" stroke-width="1"/>
<line x1="312.8" x2="543.75" y1="166.00" y2="166.00" stroke="#f3f3f3" stroke-width="1"/>
<line x1="312.8" x2="543.75" y1="147.72" y2="147.72" stroke="#f3f3f3" stroke-width="1"/>
<line x1="312.8" x2="543.75" y1="129.45" y2="129.45" stroke="#f3f3f3" stroke-width="1"/>
<line x1="312.8" x2="543.75" y1="111.19" y2="111.19" stroke="#f3f3f3" stroke-width="1"/>
<line x1="312.8" x2="543.75" y1="92.91" y2="92.91" stroke="#f3f3f3" stroke-width="1"/>
<line x1="312.8" x2="543.75" y1="74.64" y2="74.64" stroke="#f3f3f3" stroke-width="1"/>
<line x1="312.8" x2="543.75" y1="56.38" y2="56.38" stroke="#f3f3f3" stroke-width="1"/>
<line x1="312.8" x2="543.75" y1="38.10" y2="38.10" stroke="#f3f3f3" stroke-width="1"/>
<line x1="312.8" x2="543.75" y1="19.83" y2="19.83" stroke="#f3f3f3" stroke-width="1"/>
<line x1="359.0" x2="359.0" y1="10.7" y2="193.4" stroke="#f0f0f0" stroke-width="1"/>
<line x1="405.2" x2="405.2" y1="10.7" y2="193.4" stroke="#f0f0f0" stroke-width="1"/>
<line x1="451.5" x2="451.5" y1="10.7" y2="193.4" stroke="#f0f0f0" stroke-width="1"/>
<line x1="497.75" x2="497.75" y1="10.7" y2="193.4" stroke="#f0f0f0" stroke-width="1"/>
<line x1="312.8" x2="543.75" y1="175.13" y2="175.13" stroke="#d9d9d9" stroke-width="1"/>
<line x1="312.8" x2="543.75" y1="156.86" y2="156.86" stroke="#d9d9d9" stroke-width="1"/>
<line x1="312.8" x2="543.75" y1="138.59" y2="138.59" stroke="#d9d9d9" stroke-width="1"/>
<line x1="312.8" x2="543.75" y1="120.32" y2="120.32" stroke="#d9d9d9" stroke-width="1"/>
<line x1="312.8" x2="543.75" y1="102.05" y2="102.05" stroke="#d9d9d9" stroke-width="1"/>
<line x1="312.8" x2="543.75" y1="83.78" y2="83.78" stroke="#d9d9d9" stroke-width="1"/>
<line x1="312.8" x2="543.75" y1="65.51" y2="65.51" stroke="#d9d9d9" stroke-width="1"/>
<line x1="312.8" x2="543.75" y1="47.24" y2="47.24" stroke="#d9d9d9" stroke-width="1"/>
<line x1="312.8" x2="543.75" y1="28.97" y2="28.97" stroke="#d9d9d9" stroke-width="1"/>
<line x1="335.9" x2="335.9" y1="10.7" y2="193.4" stroke="#d9d9d9" stroke-width="1"/>
<line x1="382.1" x2="382.1" y1="10.7" y2="193.4" stroke="#d9d9d9" stroke-width="1"/>
<line x1="428.3" x2="428.3" y1="10.7" y2="193.4" stroke="#d9d9d9" stroke-width="1"/>
<line x1="474.6" x2="474.6" y1="10.7" y2="193.4" stroke="#d9d9d9" stroke-width="1"/>
<line x1="520.85" x2="520.85" y1="10.7" y2="193.4" stroke="#d9d9d9" stroke-width="1"/>
<g><rect x="338.75" y="118.25" width="3.99" height="3.99" fill="#0c0c0c"/><rect x="343.00" y="101.20" width="3.99" height="3.99" fill="#0c0c0c"/><rect x="348.00" y="100.30" width="3.99" height="3.99" fill="#0c0c0c"/><rect x="354.31" y="100.30" width="3.99" height="3.99" fill="#0c0c0c"/><rect x="359.81" y="84.80" width="3.99" height="3.99" fill="#0c0c0c"/><rect x="333.50" y="135.00" width="3.99" height="3.99" fill="#0c0c0c"/><rect x="333.75" y="133.00" width="3.99" height="3.99" fill="#0c0c0c"/><rect x="334.50" y="131.50" width="3.99" height="3.99" fill="#0c0c0c"/><rect x="335.50" y="130.50" width="3.99" height="3.99" fill="#0c0c0c"/><rect x="338.00" y="129.25" width="3.99" height="3.99" fill="#0c0c0c"/><rect x="341.00" y="128.50" width="3.99" height="3.99" fill="#0c0c0c"/><rect x="346.25" y="127.25" width="3.99" height="3.99" fill="#0c0c0c"/><rect x="352.25" y="126.31" width="3.99" height="3.99" fill="#0c0c0c"/><rect x="358.75" y="125.30" width="3.99" height="3.99" fill="#0c0c0c"/><rect x="366.20" y="123.70" width="3.99" height="3.99" fill="#0c0c0c"/><rect x="374.11" y="123.00" width="3.99" height="3.99" fill="#0c0c0c"/><rect x="383.00" y="122.70" width="3.99" height="3.99" fill="#0c0c0c"/><rect x="392.20" y="122.10" width="3.99" height="3.99" fill="#0c0c0c"/><rect x="401.90" y="122.00" width="3.99" height="3.99" fill="#0c0c0c"/><rect x="411.50" y="121.75" width="3.99" height="3.99" fill="#0c0c0c"/><rect x="421.00" y="121.75" width="3.99" height="3.99" fill="#0c0c0c"/><rect x="431.25" y="121.25" width="3.99" height="3.99" fill="#0c0c0c"/><rect x="442.11" y="121.00" width="3.99" height="3.99" fill="#0c0c0c"/><rect x="426.70" y="85.41" width="3.99" height="3.99" fill="#0c0c0c"/><rect x="436.31" y="79.20" width="3.99" height="3.99" fill="#0c0c0c"/><rect x="446.50" y="78.20" width="3.99" height="3.99" fill="#0c0c0c"/><rect x="456.20" y="78.20" width="3.99" height="3.99" fill="#0c0c0c"/><rect x="465.70" y="77.91" width="3.99" height="3.99" fill="#0c0c0c"/><rect x="474.75" y="77.30" width="3.99" height="3.99" fill="#0c0c0c"/><rect x="483.00" y="76.91" width="3.99" height="3.99" fill="#0c0c0c"/><rect x="490.50" y="76.50" width="3.99" height="3.99" fill="#0c0c0c"/><rect x="497.20" y="77.50" width="3.99" height="3.99" fill="#0c0c0c"/><rect x="504.31" y="78.50" width="3.99" height="3.99" fill="#0c0c0c"/><rect x="508.40" y="77.91" width="3.99" height="3.99" fill="#0c0c0c"/><rect x="512.40" y="76.91" width="3.99" height="3.99" fill="#0c0c0c"/><rect x="515.00" y="74.91" width="3.99" height="3.99" fill="#0c0c0c"/><rect x="517.50" y="75.91" width="3.99" height="3.99" fill="#0c0c0c"/><rect x="517.00" y="72.80" width="3.99" height="3.99" fill="#0c0c0c"/><rect x="518.50" y="70.30" width="3.99" height="3.99" fill="#0c0c0c"/><rect x="452.11" y="113.50" width="3.99" height="3.99" fill="#0c0c0c"/><rect x="461.50" y="100.00" width="3.99" height="3.99" fill="#0c0c0c"/><rect x="470.90" y="115.00" width="3.99" height="3.99" fill="#0c0c0c"/><rect x="479.40" y="100.00" width="3.99" height="3.99" fill="#0c0c0c"/><rect x="487.61" y="100.00" width="3.99" height="3.99" fill="#0c0c0c"/><rect x="494.61" y="100.00" width="3.99" height="3.99" fill="#0c0c0c"/><rect x="499.50" y="90.10" width="3.99" height="3.99" fill="#0c0c0c"/></g>
<g><circle cx="345.30" cy="108.30" r="2.23" fill="#ee2d2f"/><circle cx="350.00" cy="102.30" r="2.23" fill="#ee2d2f"/><circle cx="356.30" cy="102.30" r="2.23" fill="#ee2d2f"/><circle cx="361.80" cy="96.00" r="2.23" fill="#ee2d2f"/><circle cx="340.75" cy="126.25" r="2.23" fill="#ee2d2f"/><circle cx="337.50" cy="139.50" r="2.23" fill="#ee2d2f"/><circle cx="335.75" cy="148.75" r="2.23" fill="#ee2d2f"/><circle cx="335.75" cy="155.50" r="2.23" fill="#ee2d2f"/><circle cx="340.00" cy="158.75" r="2.23" fill="#ee2d2f"/><circle cx="343.75" cy="152.00" r="2.23" fill="#ee2d2f"/><circle cx="348.75" cy="143.00" r="2.23" fill="#ee2d2f"/><circle cx="354.25" cy="136.25" r="2.23" fill="#ee2d2f"/><circle cx="360.75" cy="130.30" r="2.23" fill="#ee2d2f"/><circle cx="368.20" cy="126.80" r="2.23" fill="#ee2d2f"/><circle cx="376.10" cy="125.20" r="2.23" fill="#ee2d2f"/><circle cx="385.00" cy="124.80" r="2.23" fill="#ee2d2f"/><circle cx="394.20" cy="125.20" r="2.23" fill="#ee2d2f"/><circle cx="403.90" cy="125.80" r="2.23" fill="#ee2d2f"/><circle cx="413.50" cy="125.80" r="2.23" fill="#ee2d2f"/><circle cx="423.00" cy="125.80" r="2.23" fill="#ee2d2f"/><circle cx="433.25" cy="126.00" r="2.23" fill="#ee2d2f"/><circle cx="444.10" cy="126.60" r="2.23" fill="#ee2d2f"/><circle cx="428.70" cy="95.50" r="2.23" fill="#ee2d2f"/><circle cx="454.10" cy="109.30" r="2.23" fill="#ee2d2f"/><circle cx="463.50" cy="101.60" r="2.23" fill="#ee2d2f"/><circle cx="472.90" cy="117.00" r="2.23" fill="#ee2d2f"/><circle cx="481.40" cy="101.60" r="2.23" fill="#ee2d2f"/><circle cx="489.60" cy="100.90" r="2.23" fill="#ee2d2f"/><circle cx="496.60" cy="90.30" r="2.23" fill="#ee2d2f"/><circle cx="448.50" cy="80.00" r="2.23" fill="#ee2d2f"/><circle cx="458.20" cy="79.20" r="2.23" fill="#ee2d2f"/><circle cx="467.70" cy="78.60" r="2.23" fill="#ee2d2f"/><circle cx="476.75" cy="77.80" r="2.23" fill="#ee2d2f"/><circle cx="485.00" cy="77.00" r="2.23" fill="#ee2d2f"/><circle cx="492.50" cy="75.50" r="2.23" fill="#ee2d2f"/><circle cx="499.20" cy="73.30" r="2.23" fill="#ee2d2f"/><circle cx="503.20" cy="70.30" r="2.23" fill="#ee2d2f"/><circle cx="510.90" cy="68.20" r="2.23" fill="#ee2d2f"/><circle cx="515.00" cy="65.70" r="2.23" fill="#ee2d2f"/><circle cx="518.00" cy="60.80" r="2.23" fill="#ee2d2f"/><circle cx="508.60" cy="57.00" r="2.23" fill="#ee2d2f"/><circle cx="516.30" cy="46.70" r="2.23" fill="#ee2d2f"/><circle cx="520.00" cy="50.20" r="2.23" fill="#ee2d2f"/><circle cx="520.50" cy="42.60" r="2.23" fill="#ee2d2f"/></g>
<g><path d="M345.30 106.55L347.96 111.30L342.64 111.30Z" fill="#1660e0"/><path d="M350.00 99.55L352.66 104.30L347.34 104.30Z" fill="#1660e0"/><path d="M356.30 99.55L358.96 104.30L353.64 104.30Z" fill="#1660e0"/><path d="M361.80 83.05L364.46 87.80L359.14 87.80Z" fill="#1660e0"/><path d="M337.50 144.75L340.16 149.50L334.84 149.50Z" fill="#1660e0"/><path d="M335.75 156.00L338.41 160.75L333.09 160.75Z" fill="#1660e0"/><path d="M335.75 161.00L338.41 165.75L333.09 165.75Z" fill="#1660e0"/><path d="M335.75 166.75L338.41 171.50L333.09 171.50Z" fill="#1660e0"/><path d="M340.00 167.25L342.66 172.00L337.34 172.00Z" fill="#1660e0"/><path d="M343.75 160.50L346.41 165.25L341.09 165.25Z" fill="#1660e0"/><path d="M348.75 151.00L351.41 155.75L346.09 155.75Z" fill="#1660e0"/><path d="M354.25 139.75L356.91 144.50L351.59 144.50Z" fill="#1660e0"/><path d="M360.75 130.75L363.41 135.50L358.09 135.50Z" fill="#1660e0"/><path d="M368.20 127.55L370.86 132.30L365.54 132.30Z" fill="#1660e0"/><path d="M376.10 125.75L378.76 130.50L373.44 130.50Z" fill="#1660e0"/><path d="M385.00 124.45L387.66 129.19L382.34 129.19Z" fill="#1660e0"/><path d="M394.20 123.84L396.86 128.59L391.54 128.59Z" fill="#1660e0"/><path d="M403.90 123.55L406.56 128.29L401.24 128.29Z" fill="#1660e0"/><path d="M413.50 123.45L416.16 128.19L410.84 128.19Z" fill="#1660e0"/><path d="M423.00 123.45L425.66 128.19L420.34 128.19Z" fill="#1660e0"/><path d="M433.25 123.25L435.91 128.00L430.59 128.00Z" fill="#1660e0"/><path d="M444.10 121.75L446.76 126.50L441.44 126.50Z" fill="#1660e0"/><path d="M428.70 83.75L431.36 88.50L426.04 88.50Z" fill="#1660e0"/><path d="M438.30 78.75L440.96 83.50L435.64 83.50Z" fill="#1660e0"/><path d="M448.50 77.25L451.16 82.00L445.84 82.00Z" fill="#1660e0"/><path d="M458.20 77.25L460.86 82.00L455.54 82.00Z" fill="#1660e0"/><path d="M467.70 76.84L470.36 81.59L465.04 81.59Z" fill="#1660e0"/><path d="M476.75 76.25L479.41 81.00L474.09 81.00Z" fill="#1660e0"/><path d="M485.00 75.65L487.66 80.40L482.34 80.40Z" fill="#1660e0"/><path d="M492.50 74.65L495.16 79.40L489.84 79.40Z" fill="#1660e0"/><path d="M454.10 112.95L456.76 117.70L451.44 117.70Z" fill="#1660e0"/><path d="M463.50 99.05L466.16 103.80L460.84 103.80Z" fill="#1660e0"/><path d="M472.90 113.45L475.56 118.20L470.24 118.20Z" fill="#1660e0"/><path d="M481.40 99.05L484.06 103.80L478.74 103.80Z" fill="#1660e0"/><path d="M489.60 98.84L492.26 103.59L486.94 103.59Z" fill="#1660e0"/><path d="M496.60 96.84L499.26 101.59L493.94 101.59Z" fill="#1660e0"/><path d="M500.00 73.75L502.66 78.50L497.34 78.50Z" fill="#1660e0"/><path d="M505.30 73.15L507.96 77.90L502.64 77.90Z" fill="#1660e0"/><path d="M510.90 63.95L513.56 68.70L508.24 68.70Z" fill="#1660e0"/><path d="M508.60 59.84L511.26 64.59L505.94 64.59Z" fill="#1660e0"/><path d="M514.70 52.54L517.36 57.29L512.04 57.29Z" fill="#1660e0"/><path d="M513.40 47.95L516.06 52.70L510.74 52.70Z" fill="#1660e0"/><path d="M517.50 43.34L520.16 48.09L514.84 48.09Z" fill="#1660e0"/><path d="M517.00 36.45L519.66 41.20L514.34 41.20Z" fill="#1660e0"/><path d="M520.00 34.04L522.66 38.79L517.34 38.79Z" fill="#1660e0"/><path d="M520.50 28.95L523.16 33.70L517.84 33.70Z" fill="#1660e0"/></g>
<g><path d="M345.30 115.16L347.96 110.41L342.64 110.41Z" fill="#25a55a"/><path d="M350.00 105.05L352.66 100.30L347.34 100.30Z" fill="#25a55a"/><path d="M356.30 105.05L358.96 100.30L353.64 100.30Z" fill="#25a55a"/><path d="M361.80 99.35L364.46 94.60L359.14 94.60Z" fill="#25a55a"/><path d="M337.50 149.00L340.16 144.25L334.84 144.25Z" fill="#25a55a"/><path d="M335.75 160.25L338.41 155.50L333.09 155.50Z" fill="#25a55a"/><path d="M335.75 168.50L338.41 163.75L333.09 163.75Z" fill="#25a55a"/><path d="M335.75 174.00L338.41 169.25L333.09 169.25Z" fill="#25a55a"/><path d="M337.50 178.50L340.16 173.75L334.84 173.75Z" fill="#25a55a"/><path d="M340.00 178.50L342.66 173.75L337.34 173.75Z" fill="#25a55a"/><path d="M343.75 171.50L346.41 166.75L341.09 166.75Z" fill="#25a55a"/><path d="M348.75 164.00L351.41 159.25L346.09 159.25Z" fill="#25a55a"/><path d="M354.25 153.25L356.91 148.50L351.59 148.50Z" fill="#25a55a"/><path d="M360.75 135.16L363.41 130.41L358.09 130.41Z" fill="#25a55a"/><path d="M340.75 134.25L343.41 129.50L338.09 129.50Z" fill="#25a55a"/><path d="M368.20 131.56L370.86 126.81L365.54 126.81Z" fill="#25a55a"/><path d="M376.10 130.06L378.76 125.30L373.44 125.30Z" fill="#25a55a"/><path d="M385.00 129.56L387.66 124.80L382.34 124.80Z" fill="#25a55a"/><path d="M394.20 129.06L396.86 124.30L391.54 124.30Z" fill="#25a55a"/><path d="M403.90 129.06L406.56 124.30L401.24 124.30Z" fill="#25a55a"/><path d="M413.50 128.96L416.16 124.20L410.84 124.20Z" fill="#25a55a"/><path d="M423.00 128.96L425.66 124.20L420.34 124.20Z" fill="#25a55a"/><path d="M433.25 128.96L435.91 124.20L430.59 124.20Z" fill="#25a55a"/><path d="M444.10 128.06L446.76 123.30L441.44 123.30Z" fill="#25a55a"/><path d="M428.70 98.55L431.36 93.80L426.04 93.80Z" fill="#25a55a"/><path d="M438.30 87.05L440.96 82.30L435.64 82.30Z" fill="#25a55a"/><path d="M448.50 83.35L451.16 78.60L445.84 78.60Z" fill="#25a55a"/><path d="M458.20 83.16L460.86 78.41L455.54 78.41Z" fill="#25a55a"/><path d="M467.70 82.75L470.36 78.00L465.04 78.00Z" fill="#25a55a"/><path d="M476.75 82.16L479.41 77.41L474.09 77.41Z" fill="#25a55a"/><path d="M485.00 81.35L487.66 76.60L482.34 76.60Z" fill="#25a55a"/><path d="M492.50 79.25L495.16 74.50L489.84 74.50Z" fill="#25a55a"/><path d="M499.20 77.25L501.86 72.50L496.54 72.50Z" fill="#25a55a"/><path d="M505.30 75.05L507.96 70.30L502.64 70.30Z" fill="#25a55a"/><path d="M502.70 69.95L505.36 65.20L500.04 65.20Z" fill="#25a55a"/><path d="M510.90 73.05L513.56 68.30L508.24 68.30Z" fill="#25a55a"/><path d="M515.00 70.45L517.66 65.70L512.34 65.70Z" fill="#25a55a"/><path d="M518.00 62.26L520.66 57.51L515.34 57.51Z" fill="#25a55a"/><path d="M508.60 56.05L511.26 51.30L505.94 51.30Z" fill="#25a55a"/><path d="M513.00 46.36L515.66 41.61L510.34 41.61Z" fill="#25a55a"/><path d="M520.00 42.26L522.66 37.51L517.34 37.51Z" fill="#25a55a"/><path d="M516.50 37.05L519.16 32.30L513.84 32.30Z" fill="#25a55a"/><path d="M520.50 30.95L523.16 26.20L517.84 26.20Z" fill="#25a55a"/><path d="M520.50 28.36L523.16 23.61L517.84 23.61Z" fill="#25a55a"/><path d="M454.10 114.55L456.76 109.80L451.44 109.80Z" fill="#25a55a"/><path d="M463.50 104.55L466.16 99.80L460.84 99.80Z" fill="#25a55a"/><path d="M472.90 119.35L475.56 114.60L470.24 114.60Z" fill="#25a55a"/><path d="M481.40 104.55L484.06 99.80L478.74 99.80Z" fill="#25a55a"/><path d="M489.60 104.35L492.26 99.60L486.94 99.60Z" fill="#25a55a"/><path d="M496.60 91.45L499.26 86.70L493.94 86.70Z" fill="#25a55a"/></g>
<rect x="312.8" y="10.7" width="230.95" height="182.70000000000002" fill="none" stroke="#3a3a3a" stroke-width="1.4"/>
<line x1="312.8" x2="316.3" y1="193.40" y2="193.40" stroke="#333" stroke-width="1"/>
<line x1="312.8" x2="314.8" y1="184.26" y2="184.26" stroke="#444" stroke-width="0.9"/>
<line x1="312.8" x2="316.3" y1="175.13" y2="175.13" stroke="#333" stroke-width="1"/>
<line x1="312.8" x2="314.8" y1="166.00" y2="166.00" stroke="#444" stroke-width="0.9"/>
<line x1="312.8" x2="316.3" y1="156.86" y2="156.86" stroke="#333" stroke-width="1"/>
<line x1="312.8" x2="314.8" y1="147.72" y2="147.72" stroke="#444" stroke-width="0.9"/>
<line x1="312.8" x2="316.3" y1="138.59" y2="138.59" stroke="#333" stroke-width="1"/>
<line x1="312.8" x2="314.8" y1="129.45" y2="129.45" stroke="#444" stroke-width="0.9"/>
<line x1="312.8" x2="316.3" y1="120.32" y2="120.32" stroke="#333" stroke-width="1"/>
<line x1="312.8" x2="314.8" y1="111.19" y2="111.19" stroke="#444" stroke-width="0.9"/>
<line x1="312.8" x2="316.3" y1="102.05" y2="102.05" stroke="#333" stroke-width="1"/>
<line x1="312.8" x2="314.8" y1="92.91" y2="92.91" stroke="#444" stroke-width="0.9"/>
<line x1="312.8" x2="316.3" y1="83.78" y2="83.78" stroke="#333" stroke-width="1"/>
<line x1="312.8" x2="314.8" y1="74.64" y2="74.64" stroke="#444" stroke-width="0.9"/>
<line x1="312.8" x2="316.3" y1="65.51" y2="65.51" stroke="#333" stroke-width="1"/>
<line x1="312.8" x2="314.8" y1="56.38" y2="56.38" stroke="#444" stroke-width="0.9"/>
<line x1="312.8" x2="316.3" y1="47.24" y2="47.24" stroke="#333" stroke-width="1"/>
<line x1="312.8" x2="314.8" y1="38.10" y2="38.10" stroke="#444" stroke-width="0.9"/>
<line x1="312.8" x2="316.3" y1="28.97" y2="28.97" stroke="#333" stroke-width="1"/>
<line x1="312.8" x2="314.8" y1="19.83" y2="19.83" stroke="#444" stroke-width="0.9"/>
<line x1="312.8" x2="316.3" y1="10.70" y2="10.70" stroke="#333" stroke-width="1"/>
<line x1="335.9" x2="335.9" y1="193.4" y2="189.8" stroke="#333" stroke-width="1"/>
<line x1="359.0" x2="359.0" y1="193.4" y2="191.6" stroke="#333" stroke-width="1"/>
<line x1="382.1" x2="382.1" y1="193.4" y2="189.8" stroke="#333" stroke-width="1"/>
<line x1="405.2" x2="405.2" y1="193.4" y2="191.6" stroke="#333" stroke-width="1"/>
<line x1="428.3" x2="428.3" y1="193.4" y2="189.8" stroke="#333" stroke-width="1"/>
<line x1="451.5" x2="451.5" y1="193.4" y2="191.6" stroke="#333" stroke-width="1"/>
<line x1="474.6" x2="474.6" y1="193.4" y2="189.8" stroke="#333" stroke-width="1"/>
<line x1="497.75" x2="497.75" y1="193.4" y2="191.6" stroke="#333" stroke-width="1"/>
<line x1="520.85" x2="520.85" y1="193.4" y2="189.8" stroke="#333" stroke-width="1"/>
<g font-family='"Liberation Serif", "DejaVu Serif", serif' font-size="8.8" fill="#1c1c1c" stroke="#1c1c1c" stroke-width="0.25" text-anchor="end">
<text x="308.8" y="195.60">-5</text>
<text x="308.8" y="177.33">-4</text>
<text x="308.8" y="159.06">-3</text>
<text x="308.8" y="140.79">-2</text>
<text x="308.8" y="122.52">-1</text>
<text x="308.8" y="104.25">0</text>
<text x="308.8" y="85.98">1</text>
<text x="308.8" y="67.71">2</text>
<text x="308.8" y="49.44">3</text>
<text x="308.8" y="31.17">4</text>
<text x="308.8" y="12.90">5</text>
</g>
<g font-family='"Liberation Serif", "DejaVu Serif", serif' font-size="8.8" fill="#2a2a2a" stroke="#2a2a2a" stroke-width="0.15" text-anchor="middle">
<text x="338.3" y="203.9">- 0.3</text>
<text x="368" y="203.9">- 0.2</text>
<text x="396.5" y="203.9">- 0.1</text>
<text x="428" y="203.9">0</text>
<text x="456.5" y="203.9">0.1</text>
<text x="484.5" y="203.9">0.2</text>
<text x="514.5" y="203.9">0.3</text>
</g>
<text x="430.9" y="224.8" font-family='"Liberation Serif", "DejaVu Serif", serif' font-size="10.6" fill="#333" stroke="#333" stroke-width="0.28" text-anchor="middle">Velocity (m/s)</text>
<text transform="translate(297.0,102.7) rotate(-90)" font-family='"Liberation Serif", "DejaVu Serif", serif' font-size="10.5" fill="#2a2a2a" stroke="#2a2a2a" stroke-width="0.28" text-anchor="middle">Force Sensor (kN)</text>
<text x="419.8" y="249.4" letter-spacing="-0.2" font-family='"Liberation Serif", "DejaVu Serif", serif' font-size="16.8" fill="#222" text-anchor="middle">(<tspan font-weight="bold">b</tspan>)</text>
<rect x="501.3" y="140.3" width="39.7" height="51.1" fill="#fff" stroke="#aaa" stroke-width="0.9"/>
<rect x="511.84" y="144.94" width="4.12" height="4.12" fill="#0c0c0c"/>
<text x="527.9" y="150.1" font-family='"Liberation Serif", "DejaVu Serif", serif' font-size="9.1" fill="#222" stroke="#222" stroke-width="0.1">0A</text>
<circle cx="513.90" cy="159.77" r="2.30" fill="#ee2d2f"/>
<text x="527.9" y="162.87" font-family='"Liberation Serif", "DejaVu Serif", serif' font-size="9.1" fill="#222" stroke="#222" stroke-width="0.1">1A</text>
<path d="M513.90 169.70L516.64 174.60L511.16 174.60Z" fill="#1660e0"/>
<text x="527.9" y="175.64" font-family='"Liberation Serif", "DejaVu Serif", serif' font-size="9.1" fill="#222" stroke="#222" stroke-width="0.1">2A</text>
<path d="M513.90 188.15L516.64 183.25L511.16 183.25Z" fill="#25a55a"/>
<text x="527.9" y="188.41" font-family='"Liberation Serif", "DejaVu Serif", serif' font-size="9.1" fill="#222" stroke="#222" stroke-width="0.1">3A</text></svg>
</body></html>
